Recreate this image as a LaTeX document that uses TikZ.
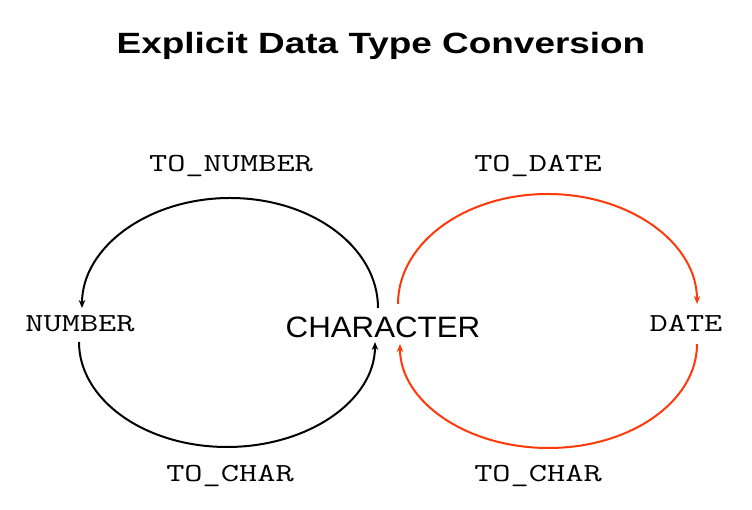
\documentclass[tikz,border=0pt]{standalone}
\usepackage{fontspec}
\setmainfont{Liberation Sans}
\usetikzlibrary{arrows.meta}
\definecolor{convred}{HTML}{FF3A0A}
\tikzset{
  titletext/.style={anchor=base, inner sep=0pt, font=\fontsize{29.3}{32}\selectfont\bfseries},
  monotext/.style={anchor=base, inner sep=0pt, font=\fontsize{26}{29}\selectfont\ttfamily},
  chartext/.style={anchor=base, inner sep=0pt, font=\fontsize{29.5}{32}\selectfont},
  conv/.style={line width=2pt, -{Stealth[length=8pt,width=6.5pt]}},
}
\newcommand{\wide}[2]{\scalebox{#1}[1]{#2}}
\begin{document}
\begin{tikzpicture}[x=1pt,y=1pt]
\useasboundingbox (0,0) rectangle (752,510);
\fill[white] (0,0) rectangle (752,510);
% texts
\node[titletext] (title) at (381,456) {\wide{1.26}{Explicit Data Type Conversion}};
\node[monotext] (tonum) at (231,338) {\wide{1.36}{TO\_NUMBER}};
\node[monotext] (todate) at (538,338) {\wide{1.36}{TO\_DATE}};
\node[monotext] (number) at (80,178) {\wide{1.36}{NUMBER}};
\node[monotext] (date) at (686,178) {\wide{1.36}{DATE}};
\node[chartext] (character) at (383,172) {\wide{1.06}{CHARACTER}};
\node[monotext] (tochar1) at (230,28) {\wide{1.36}{TO\_CHAR}};
\node[monotext] (tochar2) at (538,28) {\wide{1.36}{TO\_CHAR}};
% arc end points
\coordinate (chNW) at (378,202);
\coordinate (chSW) at (79,168);
\coordinate (chNE) at (398,206);
\coordinate (chSE) at (697,166);
% black arcs
\draw[conv] (chNW) arc[start angle=0, end angle=180, x radius=148, y radius=110];
\draw[conv] (chSW) arc[start angle=180, end angle=360, x radius=148, y radius=105];
% red arcs
\draw[conv, convred] (chNE) arc[start angle=180, end angle=0, x radius=149.5, y radius=110];
\draw[conv, convred] (chSE) arc[start angle=0, end angle=-180, x radius=148.5, y radius=104];
\end{tikzpicture}
\end{document}
